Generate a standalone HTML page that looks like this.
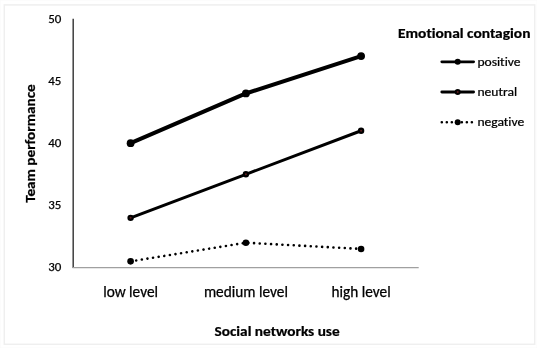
<!DOCTYPE html>
<html><head><meta charset="utf-8"><style>
html,body{margin:0;padding:0;background:#fff;}
body{width:537px;height:348px;overflow:hidden;}
svg{display:block;}
text{font-family:Carlito,"Liberation Sans",sans-serif;fill:#000;stroke:#000;stroke-width:0.25px;font-variant-ligatures:none;font-feature-settings:"liga" 0,"clig" 0;}
.t{font-size:12.9px;}
.c{font-size:15.3px;}
.b{font-size:15.3px;font-weight:bold;}
.l{font-size:13.6px;}
</style></head><body>
<svg width="537" height="348" viewBox="0 0 537 348">
<rect x="0" y="0" width="537" height="348" fill="#fff"/>
<rect x="0.25" y="0.25" width="536.5" height="347.5" fill="none" stroke="#fafafa" stroke-width="0.5"/>
<rect x="4.3" y="4.9" width="530.4" height="339.4" fill="none" stroke="#efefef" stroke-width="1.5"/>
<!-- axes -->
<line x1="73.2" y1="18.8" x2="73.2" y2="267.9" stroke="#3f3f3f" stroke-width="1.5"/>
<line x1="72.5" y1="267.6" x2="418.7" y2="267.6" stroke="#a0a0a0" stroke-width="1.3"/>
<!-- y tick labels -->
<g class="t" text-anchor="end">
<text x="61.4" y="22.6" textLength="13.08" lengthAdjust="spacingAndGlyphs">50</text>
<text x="61.4" y="85.0" textLength="13.08" lengthAdjust="spacingAndGlyphs">45</text>
<text x="61.4" y="147.1" textLength="13.08" lengthAdjust="spacingAndGlyphs">40</text>
<text x="61.4" y="209.2" textLength="13.08" lengthAdjust="spacingAndGlyphs">35</text>
<text x="61.4" y="271.3" textLength="13.08" lengthAdjust="spacingAndGlyphs">30</text>
</g>
<!-- category labels -->
<g class="c" text-anchor="middle">
<text x="130.6" y="297" textLength="54.84" lengthAdjust="spacingAndGlyphs">low level</text>
<text x="245.9" y="297" textLength="84.03" lengthAdjust="spacingAndGlyphs">medium level</text>
<text x="361.1" y="297" textLength="59.17" lengthAdjust="spacingAndGlyphs">high level</text>
</g>
<!-- axis titles -->
<text class="b" transform="translate(214.5,335.8) scale(1,0.915)" textLength="125.17" lengthAdjust="spacingAndGlyphs">Social networks use</text>
<text class="b" transform="translate(35.0,202.8) rotate(-90) scale(1,0.95)" style="font-size:15.2px" textLength="118.49" lengthAdjust="spacingAndGlyphs">Team performance</text>
<!-- series: negative -->
<polyline points="130.6,261.37 245.9,242.71 361.1,248.93" fill="none" stroke="#000" stroke-width="2.6" stroke-linecap="round" stroke-dasharray="0.01 5.67"/>
<!-- neutral -->
<polyline points="130.6,217.83 245.9,174.29 361.1,130.76" fill="none" stroke="#000" stroke-width="3" stroke-linejoin="round"/>
<!-- positive -->
<polyline points="130.6,143.20 245.9,93.44 361.1,56.12" fill="none" stroke="#000" stroke-width="4.1" stroke-linejoin="round"/>
<!-- markers -->
<g fill="#000">
<circle cx="130.6" cy="143.20" r="3.9"/>
<circle cx="245.9" cy="93.44" r="3.9"/>
<circle cx="361.1" cy="56.12" r="3.9"/>
<circle cx="130.6" cy="261.37" r="3.3"/>
<circle cx="245.9" cy="242.71" r="3.3"/>
<circle cx="361.1" cy="248.93" r="3.3"/>
</g>
<g fill="#5a1c1c" stroke="#000" stroke-width="2.2">
<circle cx="130.6" cy="217.83" r="2.1"/>
<circle cx="245.9" cy="174.29" r="2.1"/>
<circle cx="361.1" cy="130.76" r="2.1"/>
</g>
<!-- legend -->
<text class="b" transform="translate(398,38.0) scale(1,0.915)" textLength="132.44" lengthAdjust="spacingAndGlyphs">Emotional contagion</text>
<line x1="441.8" y1="61.8" x2="473.6" y2="61.8" stroke="#000" stroke-width="2.8" stroke-linecap="round"/>
<circle cx="457.7" cy="61.8" r="3"/>
<line x1="441.8" y1="92" x2="473.6" y2="92" stroke="#000" stroke-width="2.8" stroke-linecap="round"/>
<circle cx="457.7" cy="92" r="2" fill="#5a1c1c" stroke="#000" stroke-width="2"/>
<line x1="441.8" y1="122.3" x2="473.6" y2="122.3" stroke="#000" stroke-width="2.6" stroke-linecap="round" stroke-dasharray="0.01 5"/>
<circle cx="457.7" cy="122.3" r="3"/>
<g class="l">
<text transform="translate(477.4,65.6) scale(1,0.92)" textLength="43.14" lengthAdjust="spacingAndGlyphs">positive</text>
<text transform="translate(477.4,95.7) scale(1,0.92)" textLength="39.66" lengthAdjust="spacingAndGlyphs">neutral</text>
<text transform="translate(477.4,125.8) scale(1,0.92)" textLength="46.83" lengthAdjust="spacingAndGlyphs">negative</text>
</g>
</svg>
</body></html>
